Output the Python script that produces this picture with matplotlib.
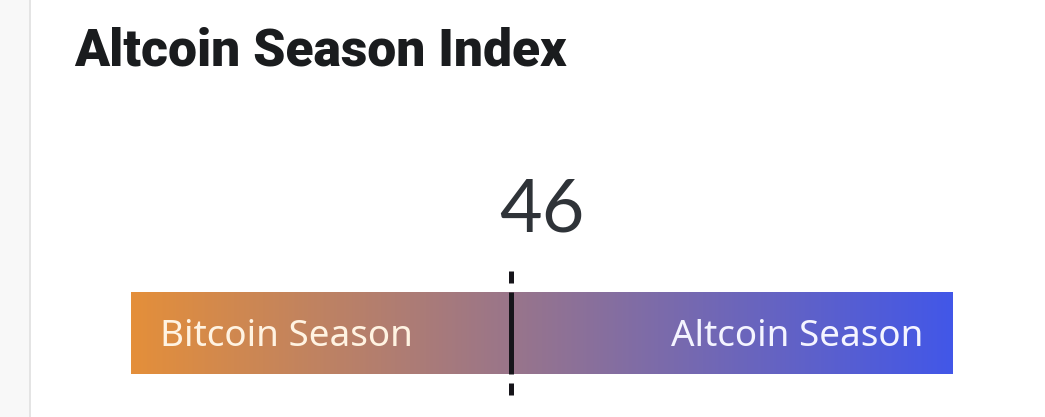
import numpy as np
import matplotlib
matplotlib.use("Agg")
import matplotlib.pyplot as plt
from matplotlib.colors import LinearSegmentedColormap
from matplotlib.patches import Rectangle

title = "Altcoin Season Index"
index_value = 46
scale_min, scale_max = 0, 100
left_label = "Bitcoin Season"
right_label = "Altcoin Season"
gradient_colors = ["#e48f3a", "#4257e8"]

W, H = 1045, 417
fig = plt.figure(figsize=(W / 100, H / 100), dpi=100)
fig.patch.set_facecolor("white")

# left page stripe
fig.patches.append(Rectangle((0, 0), 30 / W, 1, transform=fig.transFigure,
                             facecolor="#f8f8f8", edgecolor="none", zorder=0))
fig.patches.append(Rectangle((29 / W, 0), 2 / W, 1, transform=fig.transFigure,
                             facecolor="#e4e4e4", edgecolor="none", zorder=0))

# title
fig.text(74 / W, 1 - 66 / H, title, fontsize=37.2, fontweight="heavy",
         family="Roboto", color="#1a1c1e", ha="left", va="baseline")

# bar axes
bx0, bx1, by0, by1 = 131, 953, 292, 374
ax = fig.add_axes([bx0 / W, 1 - by1 / H, (bx1 - bx0) / W, (by1 - by0) / H])
ax.set_xlim(scale_min, scale_max)
ax.set_ylim(0, 1)
ax.axis("off")

cmap = LinearSegmentedColormap.from_list("season", gradient_colors)
grad = np.linspace(0, 1, 512).reshape(1, -1)
ax.imshow(grad, cmap=cmap, aspect="auto", extent=(scale_min, scale_max, 0, 1),
          interpolation="bilinear")

bar_h = by1 - by0
# marker
mx = index_value + 0.2
ax.plot([mx, mx], [0, 1], color="#16151a", lw=3.6,
        solid_capstyle="butt", clip_on=False)
ax.plot([mx, mx], [1 + (by0 - 283) / bar_h, 1 + (by0 - 271) / bar_h],
        color="#16151a", lw=3.6, solid_capstyle="butt", clip_on=False)
ax.plot([mx, mx], [-(383 - by1) / bar_h, -(395 - by1) / bar_h],
        color="#16151a", lw=3.6, solid_capstyle="butt", clip_on=False)

# labels inside the bar
ax.text((160 - bx0) / (bx1 - bx0), 0.5, left_label, transform=ax.transAxes,
        fontsize=26.5, family="Noto Sans", color="#fff3e2", ha="left", va="center_baseline")
ax.text((923 - bx0) / (bx1 - bx0), 0.5, right_label, transform=ax.transAxes,
        fontsize=26.5, family="Noto Sans", color="#f4f4ff", ha="right", va="center_baseline")

# value, centred over the bar
ax.text(0.5, 1 + (by0 - 232) / bar_h, str(index_value), transform=ax.transAxes,
        fontsize=53, family="Lato", fontweight="normal", color="#2f3338",
        ha="center", va="baseline", clip_on=False)

fig.savefig("out.png", dpi=100)
